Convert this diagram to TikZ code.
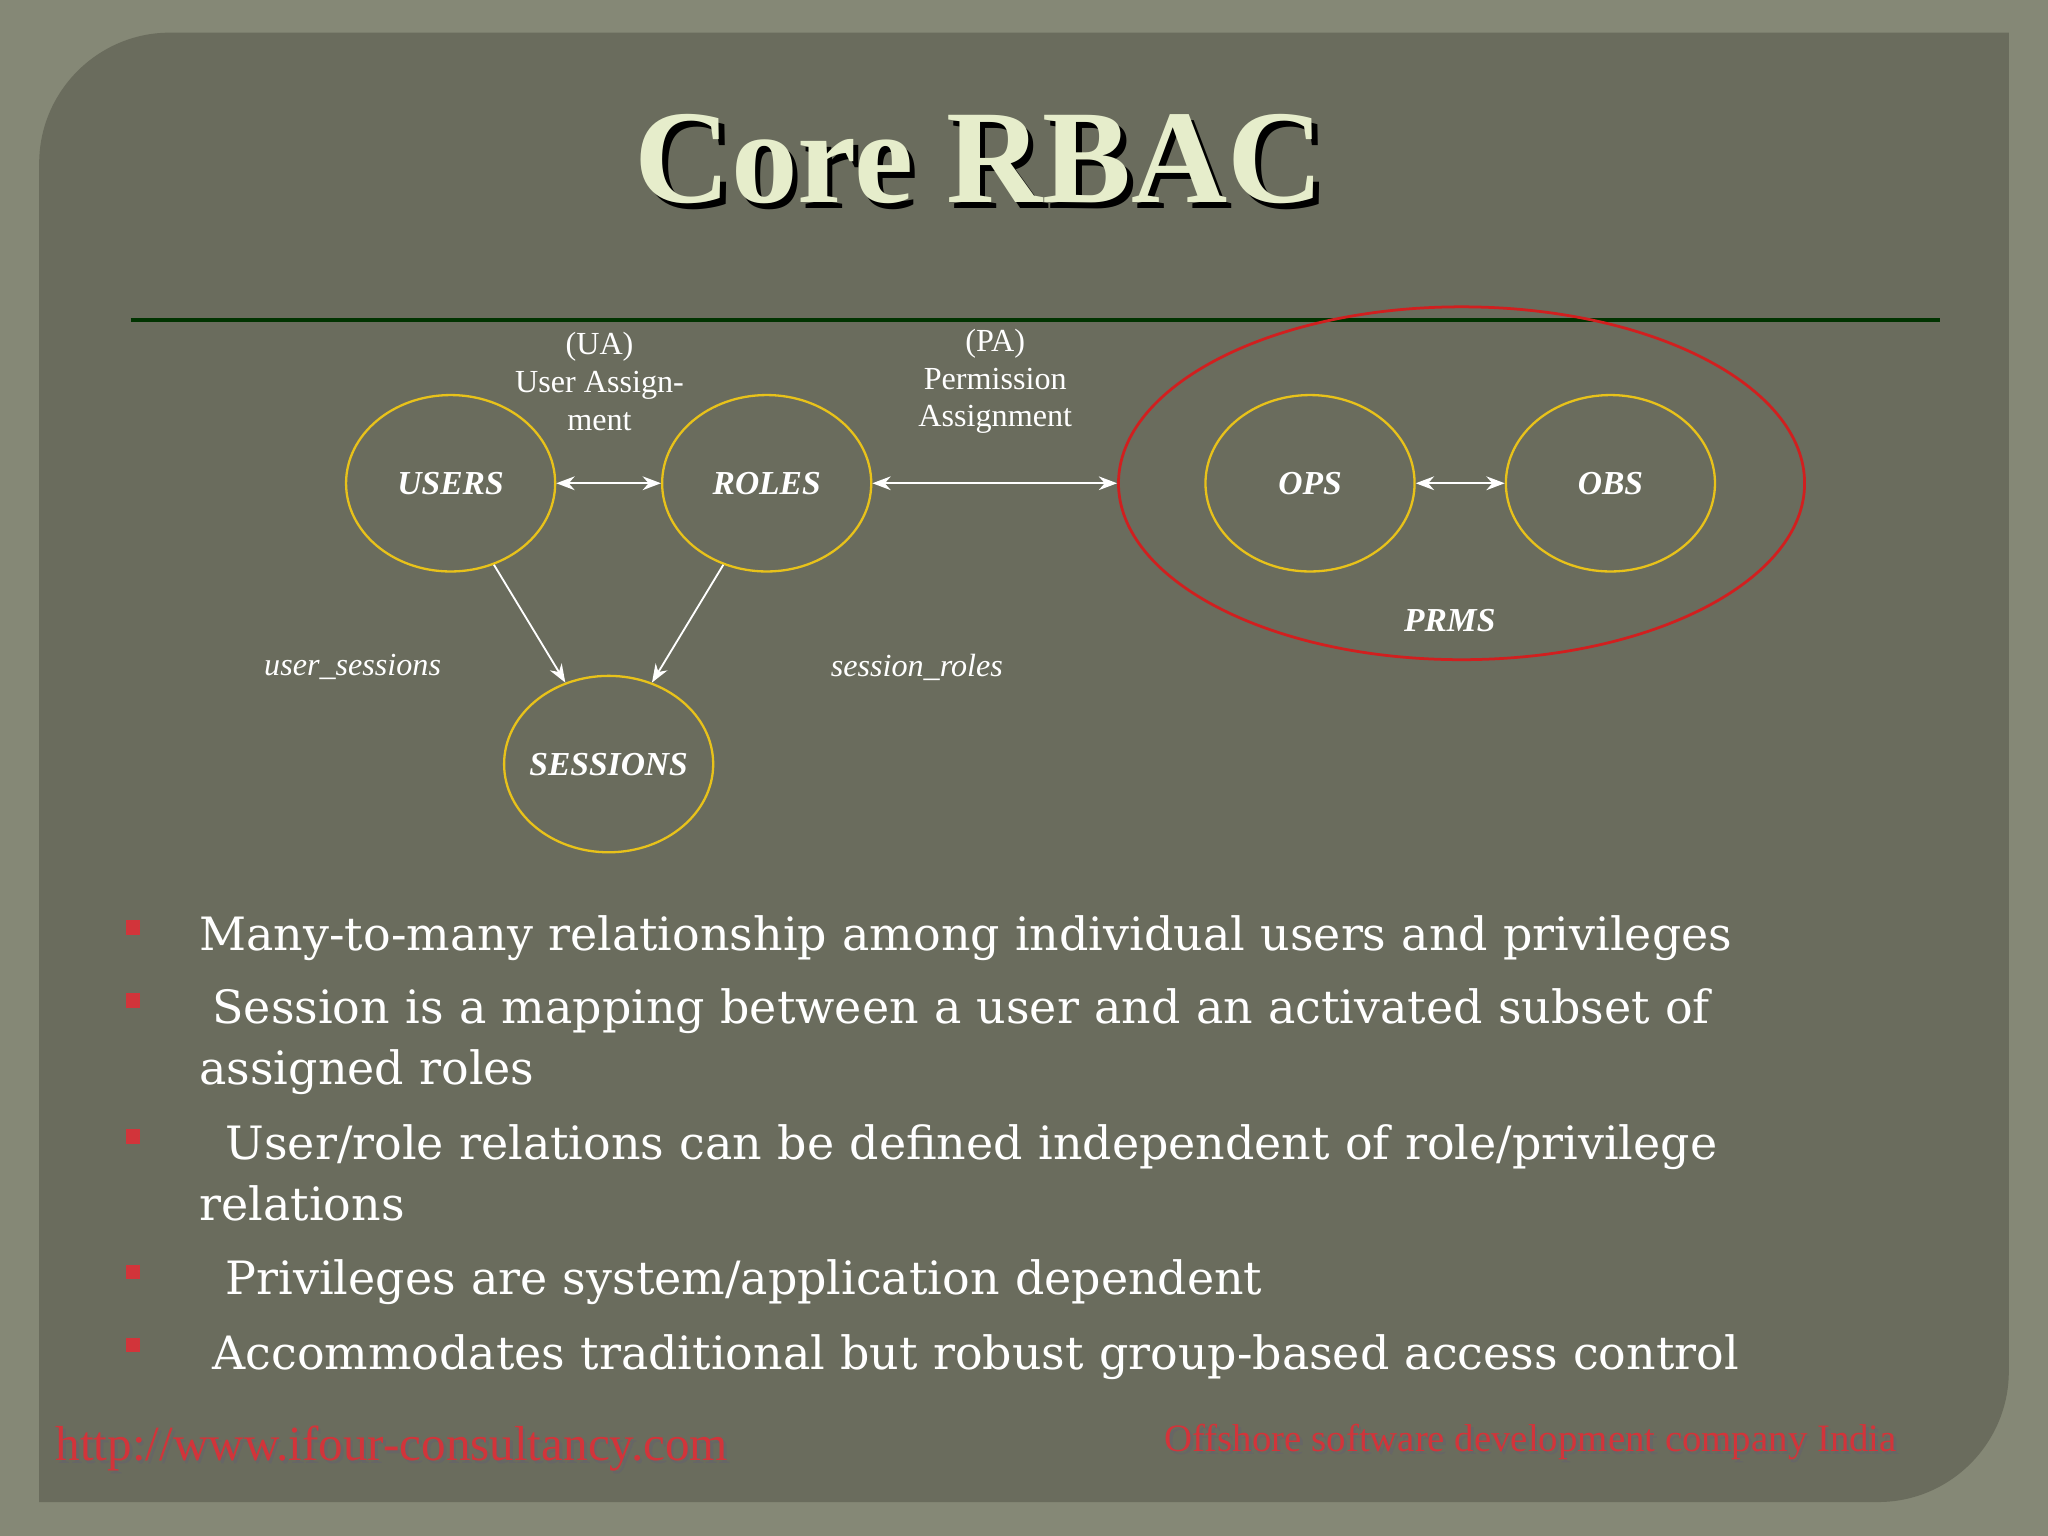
\documentclass[tikz,border=0pt]{standalone}
\usepackage{fontspec}
\setmainfont{Liberation Serif}
\newfontfamily\bulfont{DejaVu Serif}
\usetikzlibrary{arrows.meta,shapes.geometric}
\newcommand\nohyph{\hyphenpenalty=10000 \exhyphenpenalty=10000 \relax}
\definecolor{outerbg}{HTML}{858876}
\definecolor{panel}{HTML}{6A6C5D}
\definecolor{titlec}{HTML}{E6EDCB}
\definecolor{ringc}{HTML}{E8C21A}
\definecolor{redc}{HTML}{D11F1F}
\definecolor{foot}{HTML}{D2343A}
\tikzset{
 ent/.style={draw=ringc,line width=0.5pt,ellipse,inner xsep=-2pt,minimum width=1.6cm,minimum height=1.35cm,text=white,font=\fontsize{7.3}{8}\selectfont\bfseries\itshape},
 lab/.style={text=white,font=\fontsize{7}{8.2}\selectfont,align=center},
 ilab/.style={text=white,font=\fontsize{7}{8}\selectfont\itshape},
 conn/.style={white,line width=0.4pt,{Stealth[length=4pt]}-{Stealth[length=4pt]}},
 one/.style={white,line width=0.4pt,-{Stealth[length=4pt]}},
 bul/.style={text=white,anchor=north west,align=left,text width=12.15cm,inner sep=0pt,font=\bulfont\fontsize{10}{13.4}\selectfont,execute at begin node=\nohyph},
 sq/.style={fill=foot,minimum size=0.11cm,inner sep=0pt}
}
\begin{document}
\begin{tikzpicture}[x=0.01cm,y=-0.01cm]
\fill[outerbg] (0,0) rectangle (1568,1176);
\fill[panel] (30,125) .. controls (30,70) and (75,25) .. (130,25) -- (1538,25) -- (1538,1050) .. controls (1538,1105) and (1493,1150) .. (1438,1150) -- (30,1150) -- cycle;
\node[text=black,font=\fontsize{29}{30}\selectfont\bfseries] at (754,126) {Core RBAC};
\node[text=titlec,font=\fontsize{29}{30}\selectfont\bfseries] (title) at (750,122) {Core RBAC};
\draw[black!80!green,line width=0.8pt] (100,245) -- (1485,245);
\node[ent] (users) at (345,370) {USERS};
\node[ent] (roles) at (587,370) {ROLES};
\node[ent] (ops) at (1003,370) {OPS};
\node[ent] (obs) at (1233,370) {OBS};
\node[ent] (sess) at (466,585) {SESSIONS};
\node[draw=redc,line width=0.6pt,ellipse,minimum width=5.25cm,minimum height=2.7cm] (prms) at (1119,370) {};
\node[text=white,font=\fontsize{7.3}{8}\selectfont\bfseries\itshape] at (1110,475) {PRMS};
\draw[conn] (users) -- (roles);
\draw[conn] (roles) -- (prms);
\draw[conn] (ops) -- (obs);
\draw[one] (users.-62) -- (sess.118);
\draw[one] (roles.-118) -- (sess.62);
\node[lab] at (459,292) {(UA)\\User Assign-\\ment};
\node[lab] at (762,292) {(PA)\\Permission\\Assignment};
\node[ilab] at (270,511) {user\_sessions};
\node[ilab] at (702,511) {session\_roles};
\node[sq] at (102,710) {};
\node[bul] at (152,700) {Many-to-many relationship among individual users and privileges};
\node[sq] at (102,766) {};
\node[bul] at (152,756) {\hspace*{0.1cm}Session is a mapping between a user and an activated subset of assigned roles};
\node[sq] at (102,870) {};
\node[bul] at (152,860) {\hspace*{0.2cm}User/role relations can be defined independent of role/privilege relations};
\node[sq] at (102,974) {};
\node[bul] at (152,964) {\hspace*{0.2cm}Privileges are system/application dependent};
\node[sq] at (102,1030) {};
\node[bul] at (152,1021) {\hspace*{0.1cm}Accommodates traditional but robust group-based access control};
\node[text=black!60,font=\fontsize{10.7}{11}\selectfont] at (302,1111) {http://www.ifour-consultancy.com};
\node[text=foot,font=\fontsize{10.7}{11}\selectfont] at (300,1109) {http://www.ifour-consultancy.com};
\node[text=black!60,font=\fontsize{8.45}{9}\selectfont] at (1174,1106) {Offshore software development company India};
\node[text=foot,font=\fontsize{8.45}{9}\selectfont] at (1172,1104) {Offshore software development company India};
\end{tikzpicture}
\end{document}
